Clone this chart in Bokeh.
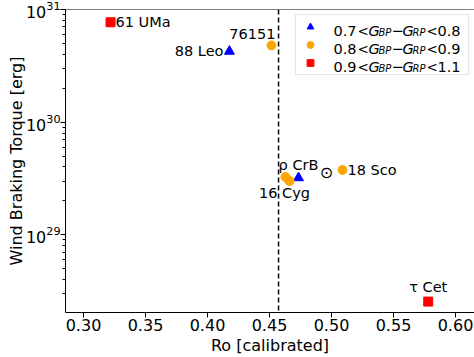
import math
from bokeh.plotting import figure
from bokeh.models import Range1d, Span, Legend, LegendItem, Label
from bokeh.core.properties import value
from bokeh.embed import file_html
from bokeh.resources import INLINE

# ---- data ----
blue_names = ["88 Leo", "ρ CrB"]
blue_ro = [0.4177, 0.4734]
blue_torque = [4.25e30, 3.2e29]

orange_names = ["76151", "16 Cyg", "", "18 Sco"]
orange_ro = [0.4516, 0.4629, 0.4661, 0.5089]
orange_torque = [4.8e30, 3.26e29, 3.0e29, 3.76e29]

red_names = ["61 UMa", "τ Cet"]
red_ro = [0.3218, 0.578]
red_torque = [7.7e30, 2.55e28]

sun_ro = [0.496]
sun_torque = [3.54e29]

ro_critical = 0.4573
legend_bounds = [("0.7", "0.8"), ("0.8", "0.9"), ("0.9", "1.1")]
x_ticks = [0.30, 0.35, 0.40, 0.45, 0.50, 0.55, 0.60]

# ---- styles ----
FONT = "DejaVu Sans"
label_style = {
    "88 Leo": ("right", "middle", -6, 0),
    "ρ CrB": ("center", "bottom", 0, -5),
    "76151": ("right", "bottom", 4, -6),
    "16 Cyg": ("center", "top", -1, 8),
    "18 Sco": ("left", "middle", 5, 0),
    "61 UMa": ("left", "middle", 5, 0),
    "τ Cet": ("center", "bottom", 0, -7),
}

FRAME_L, FRAME_R, FRAME_T, FRAME_B = 65, 474, 9, 313
X0, X1 = 0.30 - 18 / 1240, 0.30 + 391 / 1240
Y1 = 1.0e31
Y0 = 10 ** (31 - (FRAME_B - FRAME_T) / 113)

p = figure(width=474, height=357, output_backend="svg", toolbar_location=None,
           y_axis_type="log", x_range=Range1d(X0, X1), y_range=Range1d(Y0, Y1),
           min_border_left=FRAME_L, min_border_right=0, min_border_top=FRAME_T,
           min_border_bottom=357 - FRAME_B)
p.grid.visible = False
p.outline_line_color = None
p.add_layout(Span(location=Y1, dimension="width", line_color="black", line_width=1))

for ax in (p.xaxis[0], p.yaxis[0]):
    ax.axis_line_color = "black"
    ax.major_tick_line_color = "black"
    ax.major_tick_in = 0
    ax.major_tick_out = 5
    ax.major_label_text_font = FONT
    ax.major_label_text_font_size = "16px"
    ax.major_label_text_color = "black"
    ax.axis_label_text_font = FONT
    ax.axis_label_text_font_size = "16px"
    ax.axis_label_text_font_style = "normal"
    ax.axis_label_text_color = "black"

p.xaxis.major_label_standoff = 1
p.xaxis.axis_label_standoff = 2
p.yaxis.major_label_standoff = 0
p.yaxis.axis_label_standoff = -3

p.xaxis.minor_tick_line_color = None
p.yaxis.minor_tick_line_color = "black"
p.yaxis.minor_tick_in = 0
p.yaxis.minor_tick_out = 3
p.xaxis.ticker = x_ticks
p.xaxis.major_label_overrides = {t: f"{t:.2f}" for t in x_ticks}
p.xaxis.axis_label = "Ro [calibrated]"
p.yaxis.axis_label = "Wind Braking Torque [erg]"

p.add_layout(Span(location=ro_critical, dimension="height", line_color="black",
                  line_dash="5 3", line_width=1.5))

r_blue = p.scatter(blue_ro, blue_torque, marker="triangle", size=10, color="#0000ff")
r_orange = p.scatter(orange_ro, orange_torque, marker="circle", size=9, color="#ffa500")
r_red = p.scatter(red_ro, red_torque, marker="square", size=9, color="#ff0000")

p.text(sun_ro, sun_torque, text=["⊙"], text_align="center", text_baseline="middle",
       text_font=value(FONT), text_font_size="16px", text_color="black")

for names, xs, ys in ((blue_names, blue_ro, blue_torque),
                      (orange_names, orange_ro, orange_torque),
                      (red_names, red_ro, red_torque)):
    for n, x, y in zip(names, xs, ys):
        if not n:
            continue
        al, bl, dx, dy = label_style[n]
        p.text([x], [y], text=[n], text_align=al, text_baseline=bl, x_offset=dx, y_offset=dy,
               text_font=value(FONT), text_font_size="14.5px", text_color="black")

legend = Legend(items=[LegendItem(label=" ", renderers=[r]) for r in (r_blue, r_orange, r_red)],
                location="top_right", margin=5, padding=3, spacing=1,
                glyph_width=22, glyph_height=17, label_height=17, label_width=133,
                label_standoff=11, label_text_alpha=0, label_text_font_size="12px",
                border_line_color="#cccccc", border_line_width=1,
                background_fill_color="white", background_fill_alpha=0)
p.add_layout(legend)

# legend text overlay (math-like labels)
def px_to_x(px):
    return X0 + (px - FRAME_L) / (FRAME_R - FRAME_L) * (X1 - X0)

def py_to_y(py):
    lo, hi = math.log10(Y0), math.log10(Y1)
    return 10 ** (hi - (py - FRAME_T) / (FRAME_B - FRAME_T) * (hi - lo))

text_x0 = 333
for i, (lo, hi) in enumerate(legend_bounds):
    ax_ = px_to_x(text_x0)
    ay_ = py_to_y(30.3 + i * 18)
    pieces = [
        (lo, 0, 0, "14.5px", "normal"),
        ("<", 24, 0, "13.5px", "normal"),
        ("G", 35, 0, "14.5px", "italic"),
        ("BP", 45, -1.5, "10px", "italic"),
        ("−", 58, 0, "14.5px", "normal"),
        ("G", 69, 0, "14.5px", "italic"),
        ("RP", 79, -1.5, "10px", "italic"),
        ("<", 93, 0, "13.5px", "normal"),
        (hi, 104, 0, "14.5px", "normal"),
    ]
    for txt, dx, dy, fs, st in pieces:
        p.add_layout(Label(x=ax_, y=ay_, text=txt, x_offset=dx, y_offset=dy,
                           text_baseline="alphabetic", text_align="left",
                           text_font=FONT, text_font_size=fs, text_font_style=st,
                           text_color="black", level="overlay"))

open("out.html", "w").write(file_html(p, INLINE))
